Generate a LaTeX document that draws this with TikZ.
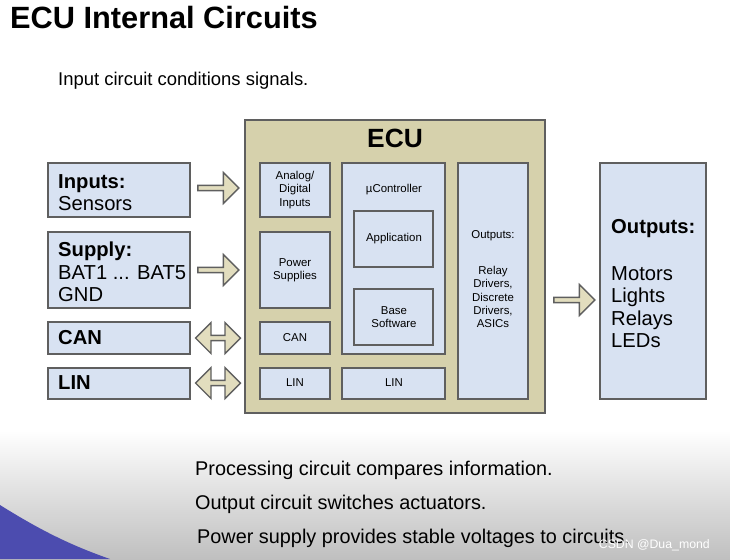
\documentclass[tikz,border=0pt]{standalone}
\usepackage{fontspec}
\setmainfont{Liberation Sans}
\usetikzlibrary{shapes.arrows}
\definecolor{boxblue}{RGB}{216,226,242}
\definecolor{ecufill}{RGB}{214,209,172}
\definecolor{arrfill}{RGB}{226,221,190}
\definecolor{edge}{RGB}{95,95,95}
\begin{document}
\begin{tikzpicture}[x=0.02cm,y=-0.02cm,
  blk/.style={draw=edge,line width=1.2pt,fill=boxblue},
  ib/.style={draw=edge,line width=0.8pt,fill=boxblue},
  small/.style={font=\fontsize{6.5}{7.6}\selectfont,align=center},
  big/.style={font=\fontsize{11.5}{12.8}\selectfont,align=left,anchor=north west},
  sarr/.style={single arrow,draw=edge,fill=arrfill,line width=0.8pt,minimum height=0.82cm,minimum width=0.62cm,single arrow head extend=0.07cm,inner sep=0pt},
  darr/.style={double arrow,draw=edge,fill=arrfill,line width=0.8pt,minimum height=0.9cm,minimum width=0.62cm,double arrow head extend=0.07cm,inner sep=0pt}]
\useasboundingbox (0,0) rectangle (730,559);
\shade[top color=white,bottom color=black!25] (0,430) rectangle (730,559);
\fill[blue!55!black!70] (0,505) .. controls (40,530) and (70,545) .. (110,559) -- (0,559) -- cycle;
\node[anchor=west,font=\fontsize{17.5}{21}\selectfont\bfseries] (title) at (4,18) {ECU Internal Circuits};
\node[anchor=west,font=\fontsize{10.5}{12}\selectfont] (intro) at (52,81) {Input circuit conditions signals.};
% ECU
\draw[draw=edge,line width=1.6pt,fill=ecufill] (245,120) rectangle (545,413);
\node[font=\fontsize{15}{18}\selectfont\bfseries] (ecu) at (395,138) {ECU};
% left blocks
\draw[blk] (48,163) rectangle (190,217);
\node[big] (inp) at (52,168) {\textbf{Inputs:}\\Sensors};
\draw[blk] (48,232) rectangle (190,308);
\node[big] (sup) at (52,236) {\textbf{Supply:}\\BAT1 ... BAT5\\GND};
\draw[blk] (48,322) rectangle (190,354);
\node[big,anchor=west] (can) at (52,338) {\textbf{CAN}};
\draw[blk] (48,368) rectangle (190,399);
\node[big,anchor=west] (lin) at (52,383) {\textbf{LIN}};
% arrows
\node[sarr] (a1) at (217,188) {};
\node[sarr] (a2) at (217,270) {};
\node[darr] (a3) at (218,338) {};
\node[darr] (a4) at (218,383) {};
\node[sarr] (a5) at (573,300) {};
% inner blocks
\draw[ib] (260,163) rectangle (330,217);
\node[small] (adi) at (295,190) {Analog/\\Digital\\Inputs};
\draw[ib] (260,232) rectangle (330,308);
\node[small] (ps) at (295,270) {Power\\Supplies};
\draw[ib] (260,322) rectangle (330,354);
\node[small] (ican) at (295,338) {CAN};
\draw[ib] (260,368) rectangle (330,399);
\node[small] (ilin) at (295,383) {LIN};
\draw[ib] (342,163) rectangle (445,354);
\node[small] (uc) at (394,190) {µController};
\draw[ib] (354,211) rectangle (433,267);
\node[small] (app) at (394,239) {Application};
\draw[ib] (354,289) rectangle (433,345);
\node[small] (bs) at (394,317) {Base\\Software};
\draw[ib] (342,368) rectangle (445,399);
\node[small] (ilin2) at (394,383) {LIN};
\draw[ib] (458,163) rectangle (528,399);
\node[small] (outs) at (493,236) {Outputs:};
\node[small] (outd) at (493,297) {Relay\\Drivers,\\Discrete\\Drivers,\\ASICs};
% outputs
\draw[blk] (600,163) rectangle (706,399);
\node[big] (out) at (605,213) {\textbf{Outputs:}\\[14pt]Motors\\Lights\\Relays\\LEDs};
% bottom text
\node[anchor=west,font=\fontsize{11.3}{13}\selectfont] (t1) at (189,470) {Processing circuit compares information.};
\node[anchor=west,font=\fontsize{11.3}{13}\selectfont] (t2) at (189,504) {Output circuit switches actuators.};
\node[anchor=west,font=\fontsize{11.3}{13}\selectfont] (t3) at (191,538) {Power supply provides stable voltages to circuits.};
\node[anchor=east,font=\fontsize{7}{8}\selectfont,text=white] (wm) at (716,545) {CSDN @Dua\_mond};
\end{tikzpicture}
\end{document}
